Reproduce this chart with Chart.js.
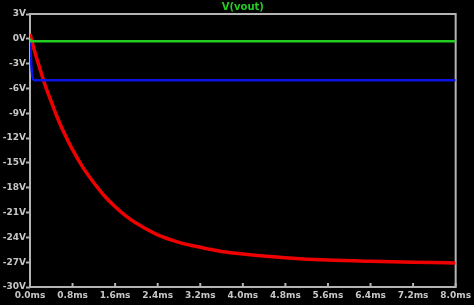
<!DOCTYPE html>
<html>
<head>
<meta charset="utf-8">
<script src="https://cdn.jsdelivr.net/npm/chart.js@4/dist/chart.umd.min.js"></script>
<style>
html,body{margin:0;padding:0;background:#000;}
canvas{display:block;}
</style>
</head>
<body>
<canvas id="c" width="474" height="305"></canvas>
<script>
const chartTitle = "V(vout)";
const xTickLabels = ["0.0ms","0.8ms","1.6ms","2.4ms","3.2ms","4.0ms","4.8ms","5.6ms","6.4ms","7.2ms","8.0ms"];
const yTickLabels = ["3V","0V","-3V","-6V","-9V","-12V","-15V","-18V","-21V","-24V","-27V","-30V"];

const tGreen = [0, 0.02, 8.0];
const vGreen = [0, -0.3, -0.3];

const tBlue = [0, 0.01, 0.02, 0.03, 0.04, 0.05, 0.06, 0.08, 0.1, 8.0];
const vBlue = [0, -1.2, -2.6, -3.6, -4.3, -4.7, -4.9, -5.0, -5.0, -5.0];

const tRed = [0, 0.1, 0.2, 0.3, 0.4, 0.5, 0.6, 0.8, 1.0, 1.2, 1.4, 1.6, 1.8, 2.0, 2.4, 2.8, 3.2, 3.6, 4.0, 4.8, 5.6, 6.4, 7.2, 8.0];
const vRed = [0.6, -1.8, -3.9, -5.9, -7.6, -9.3, -10.8, -13.4, -15.6, -17.4, -19.0, -20.3, -21.4, -22.3, -23.7, -24.6, -25.2, -25.7, -26.0, -26.45, -26.75, -26.9, -27.0, -27.1];

const pts = (xs, ys) => xs.map((x, i) => ({x: x, y: ys[i]}));

const frameColor = "#b4b4b4";
const labelColor = "#c8c8c8";

const framePlugin = {
  id: "frame",
  beforeDatasetsDraw(chart) {
    const a = chart.chartArea;
    const ctx = chart.ctx;
    ctx.save();
    ctx.strokeStyle = frameColor;
    ctx.lineWidth = 2;
    ctx.strokeRect(a.left, a.top, a.right - a.left, a.bottom - a.top);
    // x ticks as small inward stubs
    const xs = chart.scales.x;
    ctx.lineWidth = 2;
    for (let i = 0; i < xTickLabels.length; i++) {
      const px = xs.getPixelForValue(i * 0.8);
      ctx.beginPath();
      ctx.moveTo(px, a.bottom);
      ctx.lineTo(px, a.bottom - 4);
      ctx.stroke();
    }
    ctx.restore();
  },
  afterDraw(chart) {
    const a = chart.chartArea;
    const ctx = chart.ctx;
    ctx.save();
    ctx.fillStyle = "#22cc22";
    ctx.font = "bold 10px 'DejaVu Sans'";
    ctx.textAlign = "center";
    ctx.textBaseline = "middle";
    ctx.fillText(chartTitle, (a.left + a.right) / 2, 7);
    ctx.restore();
  }
};

new Chart(document.getElementById("c"), {
  type: "scatter",
  data: {
    datasets: [
      {data: pts(tGreen, vGreen), showLine: true, borderColor: "#22cc22", borderWidth: 2.5, pointRadius: 0, tension: 0},
      {data: pts(tBlue, vBlue), showLine: true, borderColor: "#0a14e6", borderWidth: 2.5, pointRadius: 0, tension: 0.3},
      {data: pts(tRed, vRed), showLine: true, borderColor: "#ee0000", borderWidth: 3.5, pointRadius: 0, tension: 0.3}
    ]
  },
  plugins: [framePlugin],
  options: {
    responsive: false,
    devicePixelRatio: 1,
    animation: false,
    layout: {padding: {left: 0, right: 15, top: 14, bottom: 0}},
    plugins: {legend: {display: false}, title: {display: false}, tooltip: {enabled: false}},
    scales: {
      x: {
        type: "linear", min: 0, max: 8,
        afterFit(s) { s.height = 18; },
        afterBuildTicks(s) { s.ticks = xTickLabels.map((l, i) => ({value: i * 0.8})); },
        ticks: {
          color: labelColor, font: {family: "DejaVu Sans", size: 9, weight: "bold"},
          padding: 3, maxRotation: 0, autoSkip: false,
          callback: (v, i) => xTickLabels[i]
        },
        grid: {display: true, drawOnChartArea: false, drawTicks: false, color: frameColor},
        border: {display: false}
      },
      y: {
        type: "linear", min: -30, max: 3,
        afterFit(s) { s.width = 30; },
        afterBuildTicks(s) { s.ticks = yTickLabels.map((l, i) => ({value: 3 - i * 3})); },
        ticks: {
          color: labelColor, font: {family: "DejaVu Sans", size: 9, weight: "bold"},
          padding: 0, autoSkip: false,
          callback: (v, i) => yTickLabels[i]
        },
        grid: {display: true, drawOnChartArea: false, drawTicks: true, tickLength: 4, tickWidth: 2, color: frameColor},
        border: {display: false}
      }
    }
  }
});
</script>
</body>
</html>
